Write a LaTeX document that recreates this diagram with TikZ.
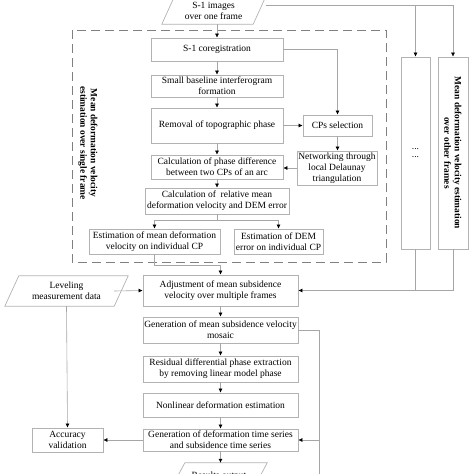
\documentclass[tikz,border=0pt]{standalone}
\usepackage{fontspec}
\setmainfont{Liberation Serif}
\usepackage{tikz}
\usetikzlibrary{arrows.meta}

\begin{document}
\begin{tikzpicture}[x=1pt, y=-1pt, every node/.style={font=\fontsize{9.5}{11}\selectfont},
    box/.style={draw=gray!60, line width=0.7pt, rectangle, align=center, inner sep=1pt},
    plain/.style={rectangle, align=center, inner sep=1pt},
    label/.style={align=center, rotate=-90, font=\fontsize{9.4}{10.5}\selectfont\bfseries},
    link/.style={draw=gray!70, line width=0.6pt},
    arr/.style={link, -{Latex[black, length=4pt, width=4pt]}},
    para/.style={draw=gray!60, line width=0.7pt}]
    \useasboundingbox (0,0) rectangle (474,474);

    % Input images
    \node[plain, minimum width=91, minimum height=26] (s1) at (213.5,11) {S-1 images\\over one frame};
    \draw[para] ([xshift=6pt]s1.north west) -- ([xshift=6pt]s1.north east) -- ([xshift=-6pt]s1.south east) -- ([xshift=-6pt]s1.south west) -- cycle;
    \coordinate (s1r) at (266,5);

    % Single frame
    \draw[gray, line width=1pt, dash pattern=on 9pt off 5pt] (72,30) rectangle (386,262);
    \node[label] (single) at (88,143) {Mean deformation velocity\\estimation over single frame};

    \node[box, minimum width=132, minimum height=23] (coreg) at (217,49.5) {S-1 coregistration};
    \node[box, minimum width=132, minimum height=22] (sbas) at (217,86) {Small baseline interferogram\\formation};
    \node[box, minimum width=132, minimum height=35] (topo) at (217,125.5) {Removal of topographic phase};
    \node[box, minimum width=132, minimum height=24] (phase) at (217,167) {Calculation of phase difference\\between two CPs of an arc};
    \node[box, minimum width=144, minimum height=26] (relvel) at (217,201) {Calculation of~ relative mean\\deformation velocity and DEM error};
    \node[box, minimum width=131, minimum height=25] (estvel) at (154.5,241.5) {Estimation of mean deformation\\velocity on individual CP};
    \node[box, minimum width=89, minimum height=25] (estdem) at (278.5,241.5) {Estimation of DEM\\error on individual CP};

    % CPs
    \node[box, minimum width=69, minimum height=21] (cpsel) at (337.5,125.5) {CPs selection};
    \node[box, minimum width=80, minimum height=34] (network) at (337,168) {Networking through\\local Delaunay\\triangulation};

    % Other frames
    \node[box, minimum width=29, minimum height=192] (dots) at (415.5,153) {...\\[-3pt]...};
    \node[box, minimum width=30, minimum height=192] (other) at (453,153) {};
    \node[label] (otherlabel) at (other) {Mean deformation velocity estimation\\over other frames};

    % Multiple frames
    \node[plain, minimum width=109, minimum height=30] (level) at (66.5,291) {Leveling\\measurement data};
    \draw[para] ([xshift=7pt]level.north west) -- ([xshift=7pt]level.north east) -- ([xshift=-7pt]level.south east) -- ([xshift=-7pt]level.south west) -- cycle;
    \node[box, minimum width=155, minimum height=31] (adjust) at (220.5,290.5) {Adjustment of mean subsidence\\velocity over multiple frames};
    \node[box, minimum width=155, minimum height=26] (mosaic) at (220.5,330) {Generation of mean subsidence velocity\\mosaic};
    \node[box, minimum width=155, minimum height=26] (resid) at (220.5,369) {Residual differential phase extraction\\by removing linear model phase};
    \node[box, minimum width=155, minimum height=24] (nonlin) at (220.5,405) {Nonlinear deformation estimation};
    \node[box, minimum width=155, minimum height=22] (tseries) at (220.5,440) {Generation of deformation time series\\and subsidence time series};
    \node[box, minimum width=71, minimum height=24] (accuracy) at (67.5,440) {Accuracy\\validation};
    \node[plain, minimum width=82, minimum height=26] (results) at (219,476) {Results output};
    \draw[para] ([xshift=7pt]results.north west) -- ([xshift=7pt]results.north east) -- ([xshift=-7pt]results.south east) -- ([xshift=-7pt]results.south west) -- cycle;
    \coordinate (fb) at (319,490);

    % Connectors
    \draw[arr] (s1.south -| coreg.north) -- (coreg.north);
    \draw[arr] (coreg) -- (sbas);
    \draw[arr] (sbas) -- (topo);
    \draw[arr] (topo) -- (phase);
    \draw[arr] (phase) -- (relvel);
    \draw[arr] (relvel.south) -- ++(0,6) -| (estvel.north);
    \draw[arr] (relvel.south) -- ++(0,6) -| (estdem.north);
    \draw[arr] (coreg.east) -| (cpsel.north);
    \draw[arr] (topo.east) -- (cpsel.west);
    \draw[arr] (cpsel.south) -- (cpsel.south |- network.north);
    \draw[arr] (network.west) -- (network.west -| phase.east);
    \draw[arr] (s1r) -| (other.north);
    \draw[arr] (s1r -| dots.north) -- (dots.north);
    \draw[arr] (other.south) |- (adjust.east);
    \draw[link] (dots.south) -- (dots.south |- adjust.east);
    \draw[arr] (estvel.south) -- ++(0,11) -| (adjust.north);
    \draw[arr] ([xshift=-7pt]level.east) -- (adjust.west);
    \draw[arr] (adjust) -- (mosaic);
    \draw[arr] (mosaic) -- (resid);
    \draw[arr] (resid) -- (nonlin);
    \draw[arr] (nonlin) -- (tseries);
    \draw[arr] (tseries.south) -- (tseries.south |- results.north);
    \draw[arr] (tseries.west) -- (accuracy.east);
    \draw[arr] (level.south) -- (accuracy.north);
    \draw[link] (mosaic.east) -| (fb);
    \draw[arr] (fb |- tseries.east) -- (tseries.east);
\end{tikzpicture}
\end{document}
